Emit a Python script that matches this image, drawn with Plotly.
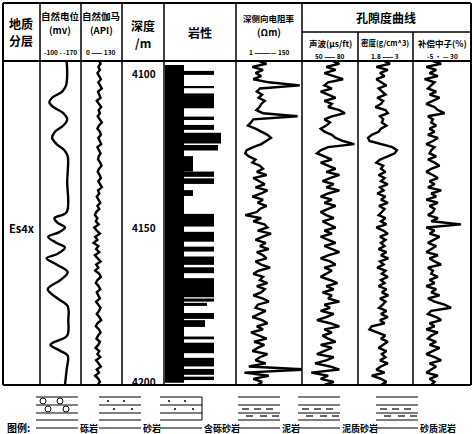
import plotly.graph_objects as go

# ---- data ----
depth = list(range(4096, 4202))

sp_depth = [4096, 4100, 4104, 4106, 4108, 4109.5, 4111, 4113, 4115, 4117, 4119, 4121, 4123, 4125,
            4127, 4135, 4145, 4147, 4148.5, 4150, 4151.5, 4153, 4155, 4156.5, 4158.5, 4160, 4162,
            4164.5, 4167, 4170, 4173, 4175.5, 4180, 4185, 4187, 4188, 4190, 4191.5, 4196, 4201]
sp = [-146, -147, -145, -138, -120, -115, -122, -140, -147, -140, -125, -120, -128, -142,
      -148, -147, -146, -124, -130, -143, -133, -113, -128, -143, -130, -110, -128,
      -148, -135, -112, -130, -148, -149, -147, -125, -117, -135, -148, -146, -143]

gr = [58, 62, 55, 60, 52, 57, 63, 55, 60, 66,
      54, 58, 62, 50, 57, 64, 56, 60, 53, 61,
      66, 57, 52, 60, 63, 55, 59, 64, 52, 58,
      62, 56, 54, 61, 65, 57, 53, 59, 63, 55,
      60, 66, 54, 58, 50, 56, 61, 52, 58, 48,
      44, 52, 47, 56, 42, 50, 60, 45, 52, 40,
      55, 48, 58, 44, 52, 62, 48, 55, 45, 58,
      63, 52, 47, 56, 61, 50, 55, 60, 48, 54,
      62, 57, 50, 58, 64, 52, 47, 57, 62, 54,
      49, 60, 55, 46, 58, 52, 61, 48, 55, 63,
      50, 57, 45, 55, 60, 52]

res = [50, 70, 38, 62, 45, 58, 40, 75, 145, 55,
       48, 60, 52, 66, 58, 54, 47, 62, 140, 40,
       35, 28, 45, 60, 72, 80, 68, 58, 40, 25,
       22, 30, 45, 38, 55, 62, 48, 70, 40, 52,
       66, 45, 72, 58, 38, 62, 50, 70, 55, 48,
       22, 58, 40, 65, 72, 50, 80, 62, 45, 68,
       55, 75, 48, 62, 70, 45, 58, 78, 52, 40,
       62, 55, 72, 48, 66, 58, 40, 62, 75, 50,
       45, 68, 52, 38, 60, 72, 48, 62, 35, 55,
       70, 42, 65, 50, 38, 72, 55, 45, 68, 30,
       160, 20, 75, 40, 60, 50]

ac = [66, 70, 63, 68, 62, 67, 72, 64, 62, 66,
      60, 64, 68, 62, 66, 64, 70, 73, 66, 62,
      65, 63, 60, 62, 66, 68, 72, 78, 64, 60,
      58, 62, 66, 60, 64, 68, 63, 70, 65, 61,
      67, 63, 70, 64, 60, 66, 62, 68, 64, 60,
      63, 67, 61, 65, 68, 62, 66, 60, 64, 68,
      62, 66, 70, 64, 60, 65, 68, 62, 66, 63,
      60, 65, 69, 63, 67, 61, 66, 64, 70, 62,
      65, 60, 67, 63, 58, 65, 70, 62, 66, 61,
      64, 68, 60, 66, 62, 58, 67, 63, 57, 65,
      70, 55, 64, 60, 67, 62]

den = [2.35, 2.5, 2.2, 2.45, 2.28, 2.38, 2.2, 2.3, 2.42, 2.25,
       2.32, 2.4, 2.22, 2.35, 2.3, 2.18, 2.4, 2.45, 2.28, 2.35,
       2.32, 2.42, 2.3, 2.25, 2.1, 2.02, 2.05, 2.3, 2.55, 2.65,
       2.6, 2.45, 2.28, 2.2, 2.35, 2.3, 2.4, 2.25, 2.38, 2.3,
       2.45, 2.28, 2.36, 2.22, 2.4, 2.3, 2.45, 2.26, 2.38, 2.32,
       2.25, 2.4, 2.3, 2.42, 2.2, 2.35, 2.45, 2.28, 2.4, 2.3,
       2.38, 2.25, 2.42, 2.3, 2.46, 2.28, 2.36, 2.22, 2.4, 2.32,
       2.45, 2.3, 2.38, 2.25, 2.42, 2.32, 2.46, 2.28, 2.4, 2.34,
       2.26, 2.42, 2.3, 2.45, 2.28, 2.38, 2.1, 2.05, 2.25, 2.4,
       2.3, 2.45, 2.35, 2.25, 2.42, 2.32, 2.4, 2.28, 2.45, 2.3,
       2.2, 2.38, 2.1, 2.3, 2.42, 2.3]

cnl = [6, 12, 3, 9, 5, 10, 2, 8, 6, 4,
       9, 5, 11, 7, 3, 8, 10, 14, 4, 7,
       6, 9, 5, 8, 4, 10, 7, 3, 8, 6,
       5, 9, 4, 8, 11, 6, 3, 7, 10, 5,
       8, 4, 12, 6, 9, 3, 10, 5, 8, 7,
       4, 10, 6, 24, 3, 8, 5, 11, 7, 4,
       9, 6, 3, 10, 5, 8, 12, 4, 7, 6,
       10, 5, 8, 3, 9, 6, 11, 4, 8, 14,
       18, 6, 4, 9, 12, 5, 8, 3, 10, 6,
       4, 9, 5, 11, 7, 3, 8, 12, 5, 9,
       6, 3, 10, 5, 8, 6]

# lithology beds: top, bottom, right edge class (column units)
litho_top = [4099.3, 4104.2, 4106.6, 4114.1, 4116.8, 4119.3, 4123.3, 4126.9, 4131.9, 4134.1,
             4137.9, 4145.6, 4151.4, 4156.2, 4159.4, 4162.9, 4166.4, 4173.0, 4174.4, 4177.7,
             4180.0, 4185.3, 4187.3, 4192.2, 4195.8, 4198.3]
litho_bot = [4100.6, 4104.9, 4111.4, 4115.2, 4118.4, 4122.8, 4125.1, 4131.9, 4133.6, 4135.9,
             4139.8, 4149.7, 4154.6, 4157.8, 4162.1, 4164.8, 4172.6, 4174.0, 4175.4, 4179.6,
             4182.2, 4186.2, 4190.7, 4195.0, 4197.7, 4199.4]
litho_right = [50, 50, 50, 50, 50, 57, 54, 29, 50, 50,
               29, 50, 50, 50, 50, 50, 50, 50, 43, 50,
               41, 50, 50, 50, 50, 50]
col_top, col_bot = 4097.4, 4200.3

depth_ticks = [4100, 4150, 4200]
legend_names = ["砾岩", "砂岩", "含砾砂岩", "泥岩", "泥质砂岩", "砂质泥岩"]

W, H = 474, 434
def px(x): return x / W
def py(y): return 1 - y / H

FONT = "Noto Sans CJK SC"
fig = go.Figure()

tracks = [  # axis name, domain px, range, x data, y data
    ("x", (41, 80), [-100, -170], sp, sp_depth),
    ("x2", (81, 122), [0, 130], gr, depth),
    ("x3", (236, 302), [1, 150], res, depth),
    ("x4", (302, 358), [50, 80], ac, depth),
    ("x5", (358, 413), [1.8, 3], den, depth),
    ("x6", (413, 471), [-5, 30], cnl, depth),
]
ylo, yhi = py(385), py(61)
layout = dict(width=W, height=H, margin=dict(l=0, r=0, t=0, b=0),
              paper_bgcolor="white", plot_bgcolor="rgba(0,0,0,0)", showlegend=False,
              font=dict(family=FONT, color="black"))
for name, dom, rng, xs, ys in tracks:
    key = "xaxis" if name == "x" else "xaxis" + name[1:]
    layout[key] = dict(domain=[px(dom[0]), px(dom[1])], range=rng, visible=False, anchor="y")
    fig.add_trace(go.Scatter(x=xs, y=ys, xaxis=name, yaxis="y", mode="lines",
                             line=dict(color="black", width=2.4,
                                       shape="spline" if name == "x" else "linear")))
layout["xaxis7"] = dict(domain=[px(164), px(236)], range=[0, 72], visible=False, anchor="y")
layout["yaxis"] = dict(domain=[ylo, yhi], range=[4201, 4096.1], visible=False)
fig.update_layout(**layout)

# lithology column
fig.add_shape(type="rect", xref="x7", yref="y", x0=1, x1=20, y0=col_top, y1=col_bot,
              fillcolor="black", line_width=0)
for t, b, r in zip(litho_top, litho_bot, litho_right):
    fig.add_shape(type="rect", xref="x7", yref="y", x0=20, x1=r, y0=t, y1=b,
                  fillcolor="black", line_width=0)

for d in depth_ticks:
    fig.add_annotation(x=px(158), xref="paper", y=d, yref="y", text=f"<b>{d}</b>",
                       showarrow=False, xanchor="right", yanchor="middle", font=dict(size=10))

# table frame
def line(x0, y0, x1, y1, w=1.5):
    fig.add_shape(type="line", xref="paper", yref="paper", x0=px(x0), y0=py(y0),
                  x1=px(x1), y1=py(y1), line=dict(color="black", width=w))

line(3, 3, 471, 3, 2); line(3, 385, 471, 385, 2); line(3, 3, 3, 385, 2); line(471, 3, 471, 385, 2)
line(3, 61, 471, 61, 2)
for xv in [40, 81, 122, 164, 236, 302]:
    line(xv, 3, xv, 385)
line(358, 32, 358, 385); line(413, 32, 413, 385); line(302, 32, 471, 32)

def txt(x, y, s, size=10, bold=True, anchor="center"):
    fig.add_annotation(x=px(x), y=py(y), xref="paper", yref="paper", showarrow=False,
                       xanchor=anchor, yanchor="middle",
                       text=f"<b>{s}</b>" if bold else s, font=dict(size=size, family=FONT))

txt(21, 24, "地质", 12); txt(21, 40, "分层", 12)
txt(60, 16, "自然电位", 9.5); txt(60, 30, "(mv)", 9.5); txt(60, 52, "-100 - -170", 6.5)
txt(101, 16, "自然伽马", 9.5); txt(101, 30, "(API)", 9.5); txt(101, 52, "0 —— 130", 6.5)
txt(143, 26, "深度", 12); txt(143, 42, "/m", 12)
txt(200, 32, "岩性", 12)
txt(269, 18, "深侧向电阻率", 8.5); txt(269, 32, "(Ωm)", 9.5); txt(269, 52, "1 ———— 150", 6.5)
txt(386, 17, "孔隙度曲线", 12)
txt(330, 43, "声波(μs/ft)", 8.5); txt(330, 56, "50 —— 80", 6.5)
txt(385, 43, "密度(g/cm^3)", 7.5); txt(385, 56, "1.8 —— 3", 6.5)
txt(442, 43, "补偿中子(%)", 8.5); txt(442, 56, "-5 · — 30", 6.5)
txt(21, 228, "Es4x", 11)

# legend
txt(5, 427, "图例:", 10, anchor="left")
sym_x = [36, 99, 160, 238, 298, 376]
for i, (x0, name) in enumerate(zip(sym_x, legend_names)):
    for yy in [397, 405, 413, 420, 428]:
        line(x0, yy, x0 + 42, yy, 1)
    if i == 2:
        line(x0 + 42, 397, x0 + 42, 420, 1)
    txt(x0 + 42, 428, name, 9, anchor="left")
    if i == 0:
        for cx, cy in [(7, 401), (24, 401), (12, 409), (30, 409)]:
            fig.add_shape(type="circle", xref="paper", yref="paper",
                          x0=px(x0 + cx - 3), x1=px(x0 + cx + 3),
                          y0=py(cy + 3), y1=py(cy - 3), line=dict(color="black", width=1))
    elif i in (1, 2):
        for cx, cy in [(9, 401), (25, 401), (15, 409), (33, 409)]:
            fig.add_shape(type="circle", xref="paper", yref="paper", fillcolor="black",
                          x0=px(x0 + cx - 1), x1=px(x0 + cx + 1),
                          y0=py(cy + 1), y1=py(cy - 1), line_width=0)
    else:
        for cx, cy in [(4, 409), (16, 409), (28, 409), (8, 416), (22, 416), (34, 416)]:
            line(x0 + cx, cy, x0 + cx + 7, cy, 1.2)

fig.write_html("out.html", config={"displayModeBar": False},
               post_script="document.body.style.margin='0';")
